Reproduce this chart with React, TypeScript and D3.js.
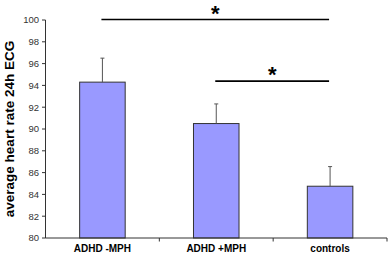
import React from "react";
import * as d3 from "d3";

const categories = ["ADHD -MPH", "ADHD +MPH", "controls"];
const means = [94.3, 90.5, 84.75];
const errorTops = [96.5, 92.3, 86.55];
const yTicks = [80, 82, 84, 86, 88, 90, 92, 94, 96, 98, 100];
// significance brackets: [from category index, to category index, y value]
const sigFrom = [0, 1];
const sigTo = [2, 2];
const sigLevel = [100, 94.35];
const sigLabels = ["*", "*"];

const W = 388;
const H = 257;
const left = 45.5;
const right = 387;
const top = 20;
const bottom = 238;

export default function App() {
  const x = d3.scaleBand<string>().domain(categories).range([left, right]).padding(0);
  const y = d3.scaleLinear().domain([80, 100]).range([bottom, top]);
  const bw = x.bandwidth();
  const barW = bw * 0.4;
  const cx = (i: number) => (x(categories[i]) as number) + bw / 2;
  const font = "Arial, 'Liberation Sans', sans-serif";

  return (
    <svg
      width={W}
      height={H}
      style={{ position: "absolute", left: 0, top: 0, background: "#fff" }}
    >
      {/* bars */}
      {categories.map((c, i) => (
        <rect
          key={c}
          x={cx(i) - barW / 2}
          y={y(means[i])}
          width={barW}
          height={y(80) - y(means[i])}
          fill="#9999ff"
          stroke="#333"
          strokeWidth={1}
        />
      ))}
      {/* error bars */}
      {categories.map((c, i) => (
        <g key={"e" + c} stroke="#555" strokeWidth={1}>
          <line x1={cx(i)} x2={cx(i)} y1={y(means[i])} y2={y(errorTops[i])} />
          <line x1={cx(i) - 2} x2={cx(i) + 2} y1={y(errorTops[i])} y2={y(errorTops[i])} />
        </g>
      ))}
      {/* y axis */}
      <line x1={left} x2={left} y1={top} y2={bottom} stroke="#333" strokeWidth={1} />
      {yTicks.map((t) => (
        <g key={t}>
          <line x1={left - 3.5} x2={left} y1={y(t)} y2={y(t)} stroke="#333" />
          <text
            x={left - 6.5}
            y={y(t) + 3.3}
            textAnchor="end"
            fontFamily={font}
            fontSize={9.5}
            fill="#333"
          >
            {t}
          </text>
        </g>
      ))}
      {/* x axis */}
      <line x1={left} x2={right} y1={bottom} y2={bottom} stroke="#333" strokeWidth={1} />
      {categories.map((c, i) => (
        <g key={"x" + c}>
          <line
            x1={(x(c) as number) + bw}
            x2={(x(c) as number) + bw}
            y1={bottom}
            y2={bottom + 3.5}
            stroke="#333"
          />
          <text
            x={cx(i)}
            y={251.5}
            textAnchor="middle"
            fontFamily={font}
            fontSize={10}
            fontWeight="bold"
            fill="#000"
          >
            {c}
          </text>
        </g>
      ))}
      {/* y title */}
      <text
        transform={`translate(14,${(top + bottom) / 2}) rotate(-90)`}
        textAnchor="middle"
        fontFamily={font}
        fontSize={13.5}
        fontWeight="bold"
        fill="#000"
      >
        average heart rate 24h ECG
      </text>
      {/* significance */}
      {sigFrom.map((f, k) => {
        const x1 = cx(f) - 1;
        const x2 = cx(sigTo[k]) - 1;
        const yy = y(sigLevel[k]) - 0.5;
        return (
          <g key={"s" + k}>
            <line x1={x1} x2={x2} y1={yy} y2={yy} stroke="#000" strokeWidth={1.6} />
            <text
              x={(x1 + x2) / 2}
              y={yy + 1}
              textAnchor="middle"
              fontFamily={font}
              fontSize={22}
              fontWeight="bold"
              fill="#000"
            >
              {sigLabels[k]}
            </text>
          </g>
        );
      })}
    </svg>
  );
}
